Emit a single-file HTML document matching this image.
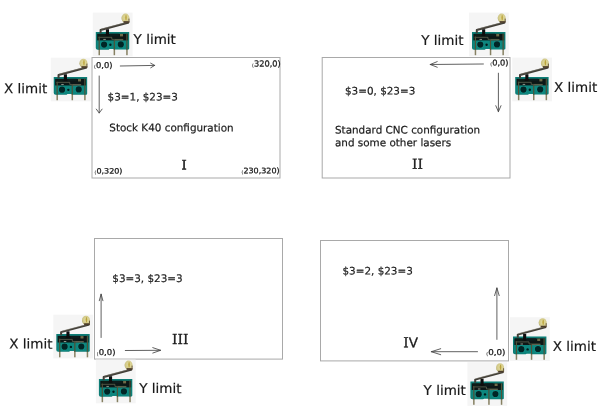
<!DOCTYPE html>
<html><head><meta charset="utf-8">
<style>
html,body{margin:0;padding:0;background:#fff;}
svg{display:block;will-change:transform;}
text{font-family:"DejaVu Sans","Liberation Sans",sans-serif;fill:#1a1a1a;stroke:#1a1a1a;stroke-width:0.2px;}
.l{font-size:13.5px;}
.m{font-size:10.4px;}
.s{font-size:8.1px;stroke-width:0.28px;}
.p{font-size:4.6px;fill:#555;stroke:#555;}
.r{font-family:"DejaVu Serif","Liberation Serif",serif;font-size:13.8px;stroke-width:0.3px;}
.r .l{font-family:"DejaVu Sans","Liberation Sans",sans-serif;}
.box{fill:#fff;stroke:#a9a9a9;stroke-width:1;}
.ar{fill:none;stroke:#444;stroke-width:0.85;stroke-linecap:round;stroke-linejoin:miter;}
</style></head><body>
<svg width="600" height="408" viewBox="0 0 600 408">
<defs>
<filter id="bl" x="-5%" y="-5%" width="110%" height="110%"><feGaussianBlur stdDeviation="0.38"/></filter>
<radialGradient id="rg" cx="0.55" cy="0.45" r="0.6">
  <stop offset="0" stop-color="#cbb955"/><stop offset="0.35" stop-color="#ddd598"/><stop offset="0.8" stop-color="#cfc684"/><stop offset="1" stop-color="#9d9455"/>
</radialGradient>
<g id="sw">
  <rect x="0" y="0" width="39.8" height="43.7" fill="#f5f5f5"/>
  <g filter="url(#bl)">
  <!-- pins below body -->
  <rect x="5.7" y="30" width="1.5" height="12.6" fill="#878163"/>
  <rect x="20.8" y="30" width="1.5" height="12.6" fill="#878163"/>
  <rect x="33.4" y="30" width="1.5" height="12.6" fill="#878163"/>
  <!-- body -->
  <path d="M3.0 19.4 H36.4 V36 Q36.4 37 35.3 37 H22.5 Q21.8 37 21.6 36.3 H16.6 Q16.4 37.1 15.6 37.1 H5 Q3.0 37.1 3.0 35.4 Z" fill="#0a7c75"/>
  <path d="M4 27.5 H35.6 V35.4 Q35.6 36.4 34.6 36.4 H5.4 Q4 36.4 4 35.2 Z" fill="#0b867e"/>
  <!-- dark internals -->
  <rect x="4.4" y="21.2" width="30.8" height="6.6" fill="#0a1615"/>
  <rect x="5.2" y="21.4" width="7" height="2.4" fill="#0a1a18"/>
  <rect x="17" y="21.2" width="9" height="2.6" fill="#0c1c1a"/>
  <rect x="27.2" y="21.4" width="3" height="2.4" fill="#6e6a48"/>
  <path d="M5.6 24.7 H19 V26.8 H30.4" fill="none" stroke="#6f6e5a" stroke-width="0.7"/><path d="M10.5 26.8 H13" fill="none" stroke="#b8b8a8" stroke-width="0.8"/>
  <path d="M22 27.4 H30.5" fill="none" stroke="#7b7a60" stroke-width="0.7"/>
  <!-- pins over body -->
  <rect x="5.8" y="24" width="1.2" height="13" fill="#4f5238"/>
  <rect x="20.9" y="27.2" width="1.2" height="10" fill="#4f5238"/>
  <rect x="33.5" y="21" width="1.2" height="16" fill="#4f5238"/>
  <!-- holes -->
  <circle cx="11.3" cy="32" r="3.7" fill="#11968c"/>
  <circle cx="28" cy="31.8" r="3.7" fill="#11968c"/>
  <circle cx="11.3" cy="32" r="3.1" fill="#052628"/>
  <circle cx="28" cy="31.8" r="3.1" fill="#052628"/>
  <circle cx="17.6" cy="32.2" r="1.2" fill="#051c1c"/>
  <!-- plunger -->
  <rect x="13.1" y="16.6" width="3.1" height="6.6" fill="#0c0c0c"/>
  <!-- lever -->
  <path d="M7.8 20.6 V17.4 L36 9.9" fill="none" stroke="#403d36" stroke-width="2" stroke-linejoin="round"/>
  <path d="M8.4 16.5 L35.5 9.3" fill="none" stroke="#7a766a" stroke-width="0.5"/>
  <!-- roller -->
  <ellipse cx="32.7" cy="5.5" rx="4" ry="4.5" fill="url(#rg)"/>
  <path d="M33.2 2.6 V7.6" stroke="#b9a23c" stroke-width="1.1" fill="none"/>
  <path d="M30.8 9.4 H36.6" stroke="#4a3a2a" stroke-width="1.7" fill="none"/>
  <path d="M36.2 6 V9.6" stroke="#6a5a3c" stroke-width="1" fill="none"/>
  </g>
</g>
</defs>
<rect width="600" height="408" fill="#fff"/>
<rect class="box" x="92" y="57.5" width="188" height="120.5"/>
<use href="#sw" x="92.8" y="12.6"/>
<use href="#sw" x="50.75" y="57.65"/>
<text class="l" transform="rotate(0.05 133.6 44)" x="133.6" y="44">Y limit</text>
<text class="l" transform="rotate(0.05 4 93.3)" x="4" y="93.3">X limit</text>
<text class="p" transform="rotate(0.05 95.98120805369128 67.9)" x="94.00" y="68.30">(</text><text class="s" style="font-size:8.0px" transform="translate(95.98,67.90) rotate(0.05) scale(1.047,1)">0,0)</text>
<text class="p" transform="rotate(0.05 254.08988073837233 66.6)" x="252.10" y="67.00">(</text><text class="s" style="font-size:8.3px" transform="translate(254.09,66.60) rotate(0.05) scale(0.988,1)">320,0)</text>
<text class="p" transform="rotate(0.05 96.39845195764492 173.5)" x="94.40" y="173.90">(</text><text class="s" style="font-size:7.3px" transform="translate(96.40,173.50) rotate(0.05) scale(1.100,1)">0,320)</text>
<text class="p" transform="rotate(0.05 243.39848851161375 173.3)" x="241.40" y="173.70">(</text><text class="s" style="font-size:7.6px" transform="translate(243.40,173.30) rotate(0.05) scale(1.057,1)">230,320)</text>
<text class="m" transform="rotate(0.05 107.6 100.5)" x="107.6" y="100.5">$3=1, $23=3</text>
<text class="m" transform="rotate(0.05 109.3 131.3)" x="109.3" y="131.3">Stock K40 configuration</text>
<text class="r" style="font-size:13.2px;stroke-width:0.45px" transform="rotate(0.05 181.5 169.5)" x="181.5" y="169.5">I</text>
<path class="ar" d="M120.30 66.00 L154.70 65.40 M150.74 67.77 L154.70 65.40 L150.66 63.17"/>
<path class="ar" d="M99.20 76.00 L99.20 113.00 M96.30 109.10 L99.20 113.00 L102.10 109.10"/>
<rect class="box" x="322.2" y="57.5" width="187.8" height="120.5"/>
<use href="#sw" x="469" y="12.6"/>
<use href="#sw" x="512.2" y="57.6"/>
<text class="l" transform="rotate(0.05 421.3 45)" x="421.3" y="45">Y limit</text>
<text class="l" transform="rotate(0.05 554 92)" x="554" y="92">X limit</text>
<text class="p" transform="rotate(0.05 492.18657718120807 65.4)" x="490.20" y="65.80">(</text><text class="s" style="font-size:8.0px" transform="translate(492.19,65.40) rotate(0.05) scale(1.034,1)">0,0)</text>
<text class="m" transform="rotate(0.05 345 94.4)" x="345" y="94.4">$3=0, $23=3</text>
<text class="m" transform="rotate(0.05 335 133.4)" x="335" y="133.4">Standard CNC configuration</text>
<text class="m" transform="rotate(0.05 335 146.2)" x="335" y="146.2">and some other lasers</text>
<text class="r" transform="rotate(0.05 412.0 168.8)" x="412.0" y="168.8">II</text>
<path class="ar" d="M483.40 64.00 L430.20 64.50 M437.17 61.63 L430.20 64.50 L437.23 67.23"/>
<path class="ar" d="M498.40 73.20 L498.40 111.70 M495.80 105.70 L498.40 111.70 L501.00 105.70"/>
<rect class="box" x="94.5" y="238.5" width="188" height="120.6"/>
<use href="#sw" x="53.3" y="314.7"/>
<use href="#sw" x="95.9" y="359.6"/>
<text class="l" transform="rotate(0.05 9.3 348.6)" x="9.3" y="348.6">X limit</text>
<text class="l" transform="rotate(0.05 139.3 393.1)" x="139.3" y="393.1">Y limit</text>
<text class="p" transform="rotate(0.05 98.67583892617449 355.0)" x="96.70" y="355.40">(</text><text class="s" style="font-size:8.0px" transform="translate(98.68,355.00) rotate(0.05) scale(1.060,1)">0,0)</text>
<text class="m" transform="rotate(0.05 112.3 282)" x="112.3" y="282">$3=3, $23=3</text>
<text class="r" transform="rotate(0.05 172 344)" x="172" y="344">III</text>
<path class="ar" d="M125.30 350.50 L160.60 350.30 M152.82 353.04 L160.60 350.30 L152.78 347.64"/>
<path class="ar" d="M101.10 337.50 L101.10 294.10 M102.90 300.70 L101.10 294.10 L99.30 300.70"/>
<rect class="box" x="320.5" y="240.5" width="188" height="120.4"/>
<use href="#sw" x="510" y="317.2"/>
<use href="#sw" x="467.4" y="362.2"/>
<text class="l" transform="rotate(0.05 552.7 351)" x="552.7" y="351">X limit</text>
<text class="l" transform="rotate(0.05 423.6 394.9)" x="423.6" y="394.9">Y limit</text>
<text class="p" transform="rotate(0.05 488.26510067114094 355.0)" x="486.30" y="355.40">(</text><text class="s" style="font-size:8.0px" transform="translate(488.27,355.00) rotate(0.05) scale(1.087,1)">0,0)</text>
<text class="m" transform="rotate(0.05 342.5 274.5)" x="342.5" y="274.5">$3=2, $23=3</text>
<text class="r" transform="rotate(0.05 403.3 347.2)" x="403.3" y="347.2">I<tspan class="l">V</tspan></text>
<path class="ar" d="M477.50 351.70 L431.30 351.70 M440.70 348.70 L431.30 351.70 L440.70 354.70"/>
<path class="ar" d="M496.90 339.40 L496.90 287.90 M499.20 295.60 L496.90 287.90 L494.60 295.60"/>
</svg>
</body></html>
